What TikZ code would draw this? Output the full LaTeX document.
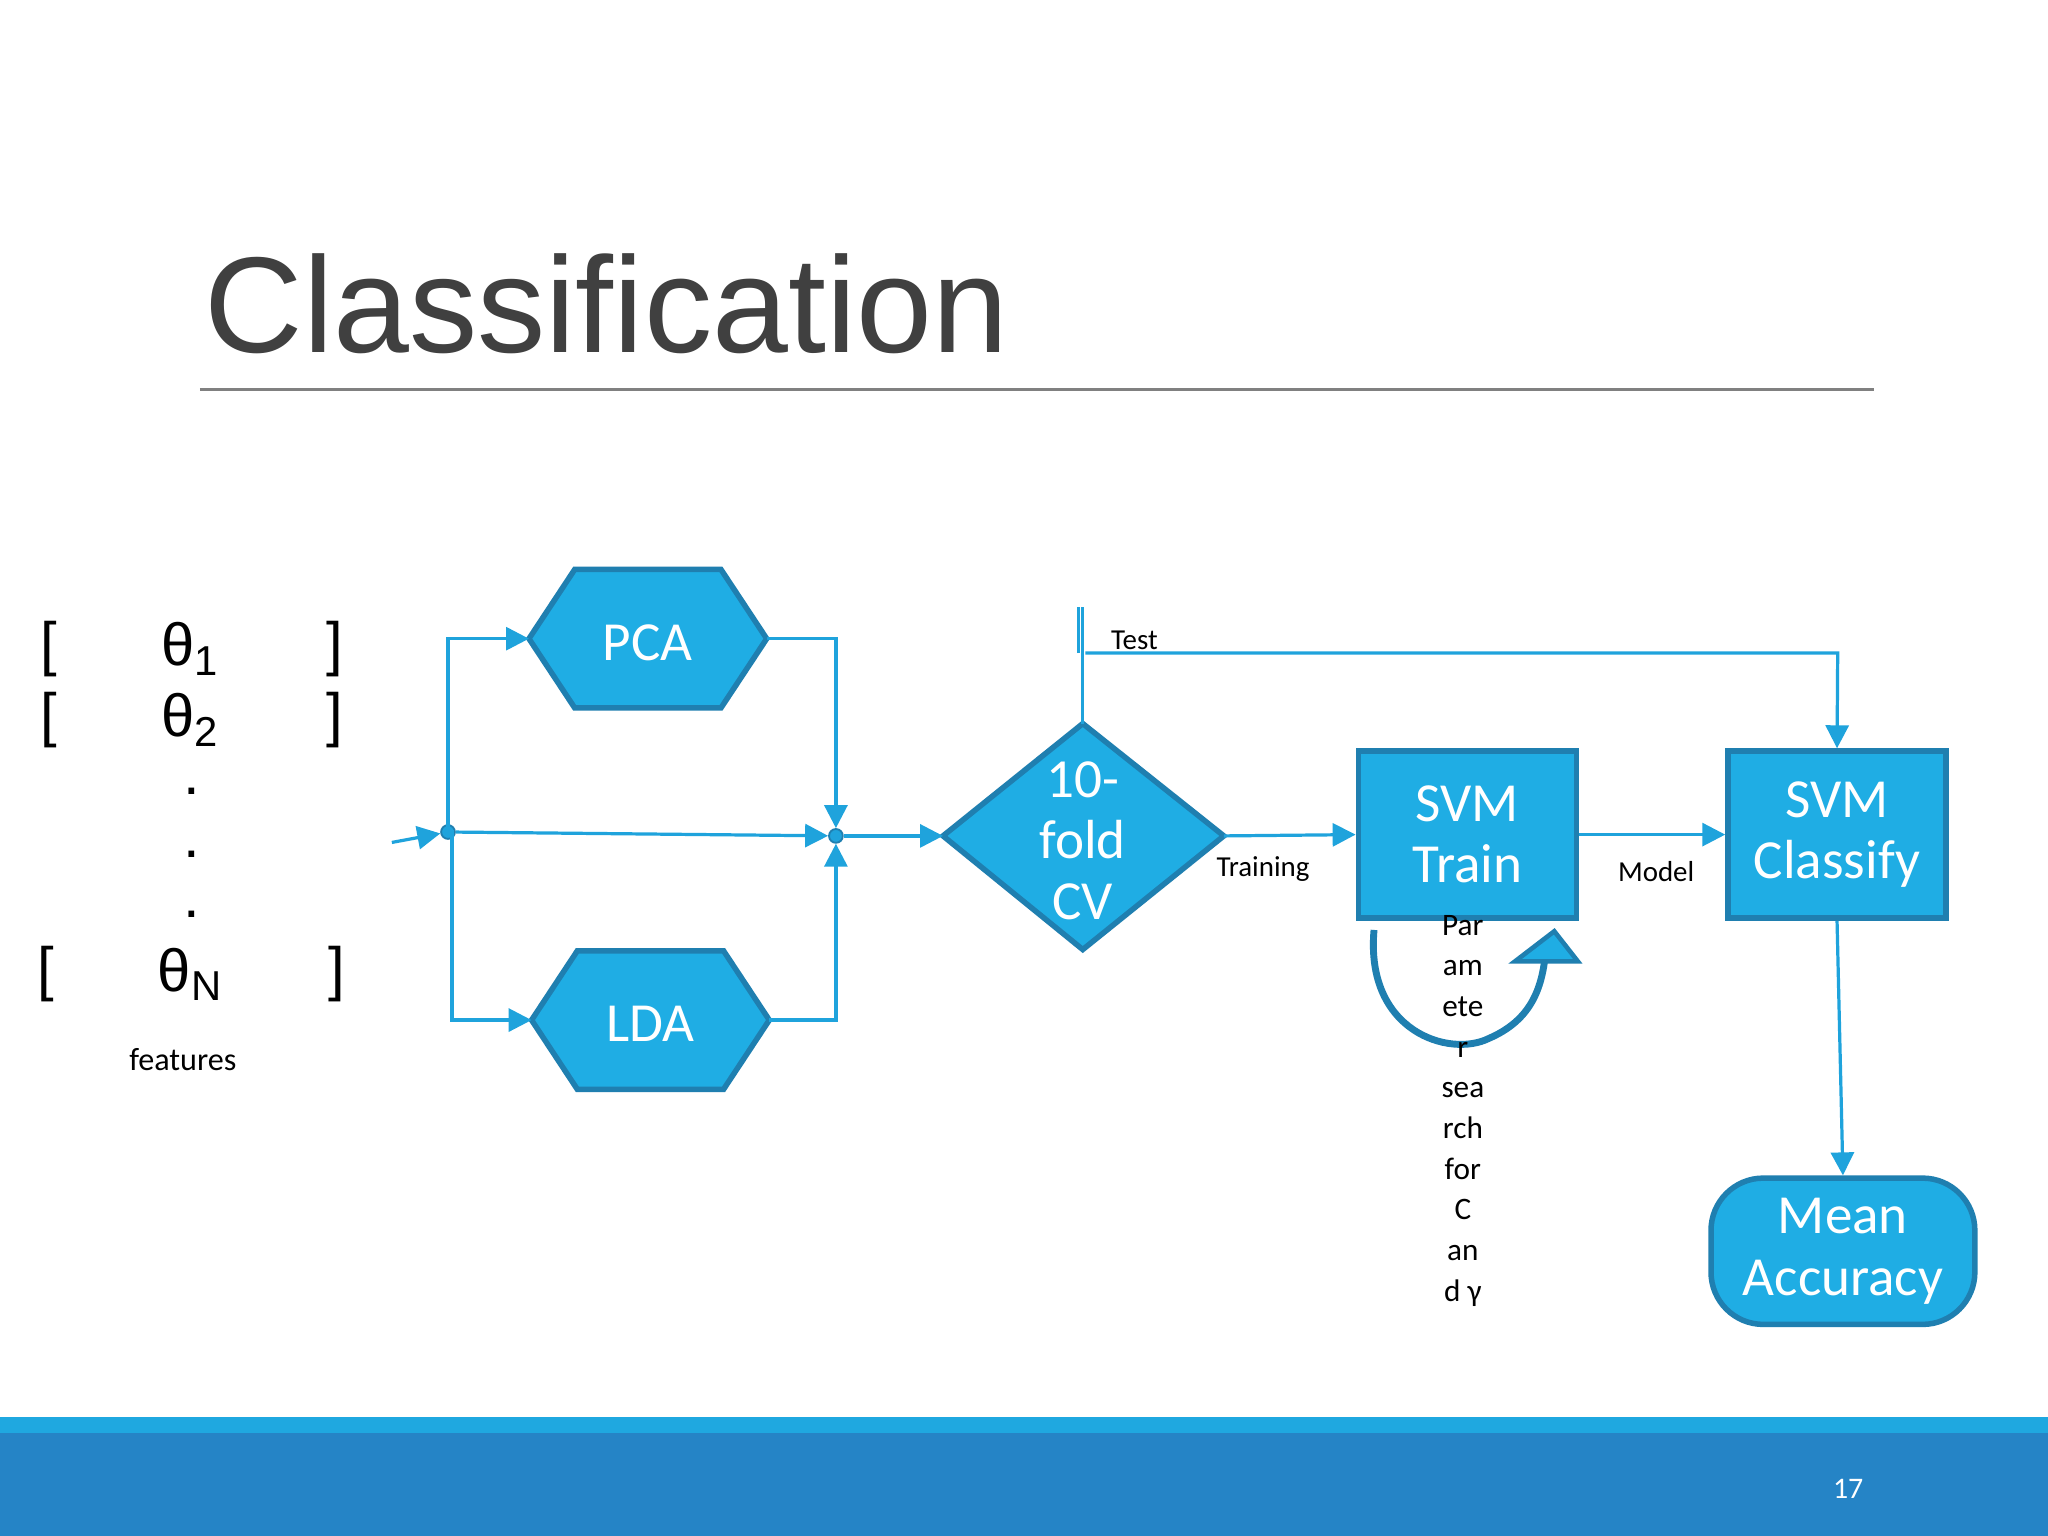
\documentclass[tikz,border=0pt]{standalone}
\usepackage{fontspec}
\setmainfont{Carlito}
\newfontfamily\arialf{Liberation Sans}
\usetikzlibrary{arrows.meta,shapes.geometric}
\definecolor{boxfill}{HTML}{1FADE4}
\definecolor{boxline}{HTML}{1F7FB0}
\definecolor{conn}{HTML}{1FA3DC}
\definecolor{bandlight}{HTML}{1FA8E0}
\definecolor{banddark}{HTML}{2584C6}
\definecolor{titlegray}{HTML}{404040}
\tikzset{
  shp/.style={draw=boxline,fill=boxfill,line width=1.2pt},
  box/.style={shp,text=white,font=\fontsize{12}{13.3}\selectfont,align=center,inner sep=0pt},
  btxt/.style={text=white,font=\fontsize{12}{13.3}\selectfont,align=center,inner sep=0pt},
  lab/.style={font=\fontsize{6.3}{8.9}\selectfont,text=black,inner sep=0pt,align=center},
  wire/.style={draw=conn,line width=0.7pt},
  arr/.style={wire,-{Triangle[length=5pt,width=5pt]}},
  theta/.style={font=\arialf\fontsize{13}{14}\selectfont,inner sep=0pt},
  jdot/.style={circle,fill=conn,draw=boxline,minimum size=3pt,inner sep=0pt}
}
\begin{document}
\begin{tikzpicture}[x=0.01cm,y=-0.01cm]
\useasboundingbox (0,0) rectangle (1568,1176);
\fill[white] (0,0) rectangle (1568,1176);
% title
\node[anchor=base west,inner sep=0pt,text=titlegray,font=\arialf\fontsize{29.7}{32}\selectfont] (title) at (156,270) {Classification};
\draw[gray,line width=0.6pt] (153,298) -- (1435,298);
% bottom band
\fill[bandlight] (0,1085) rectangle (1568,1098);
\fill[banddark] (0,1097) rectangle (1568,1176);
\node[text=white,font=\fontsize{6.5}{8}\selectfont] (pg) at (1415,1140) {17};
% features
\node[theta] (b1l) at (37,497) {[};
\node[theta] (t1) at (146,497) {θ\textsubscript{1}};
\node[theta] (b1r) at (256,497) {]};
\node[theta] (b2l) at (37,551) {[};
\node[theta] (t2) at (146,551) {θ\textsubscript{2}};
\node[theta] (b2r) at (256,551) {]};
\node[theta] (d1) at (147,606) {.};
\node[theta] (d2) at (147,654) {.};
\node[theta] (d3) at (147,700) {.};
\node[theta] (bNl) at (35,746) {[};
\node[theta] (tN) at (146,746) {θ\textsubscript{N}};
\node[theta] (bNr) at (258,746) {]};
\node[lab,font=\fontsize{7}{9}\selectfont] (feat) at (140,811) {features};
% hexagons
\draw[shp] (405,489) -- (440,436) -- (552,436) -- (587,489) -- (552,542) -- (440,542) -- cycle;
\node[btxt] (pca) at (496,492) {PCA};
\coordinate (pcaL) at (405,489); \coordinate (pcaR) at (587,489);
\draw[shp] (407,781) -- (442,728) -- (554,728) -- (589,781) -- (554,834) -- (442,834) -- cycle;
\node[btxt] (lda) at (498,784) {LDA};
\coordinate (ldaL) at (407,781); \coordinate (ldaR) at (589,781);
% diamond
\draw[shp] (722,640) -- (829,554) -- (937,640) -- (829,727) -- cycle;
\node[btxt] (cv) at (829,644) {10-\\fold\\CV};
\coordinate (cvL) at (722,640); \coordinate (cvR) at (937,640); \coordinate (cvT) at (829,554);
% boxes
\node[box,minimum width=167*0.01cm,minimum height=128*0.01cm] (train) at (1123.5,639) {SVM\\Train};
\node[box,minimum width=167*0.01cm,minimum height=128*0.01cm] (classify) at (1406.5,639) {SVM\\Classify};
\node[box,rounded corners=0.4cm,minimum width=202*0.01cm,minimum height=112*0.01cm] (mean) at (1411,958) {Mean\\Accuracy};
% junctions
\node[jdot] (j1) at (343,637) {};
\node[jdot] (j2) at (640,640) {};
\coordinate (in) at (300,645);
% connectors
\draw[arr] (in) -- (j1);
\draw[arr] (j1.center) -- (343,489) -- (pcaL);
\draw[arr] (j1.center) -- (346,637) -- (346,781) -- (ldaL);
\draw[arr] (j1) -- (j2);
\draw[arr] (pcaR) -- (640,489) -- (j2.north);
\draw[arr] (ldaR) -- (640,781) -- (j2.south);
\draw[arr] (j2) -- (cvL);
\draw[wire] (cvT) -- (829,465);
\draw[wire] (826,500) -- (826,465);
\draw[arr] (831,500) -- (1407,500) -- (classify.north);
\node[lab,anchor=base west] (test) at (850,497) {Test};
\draw[arr] (cvR) -- (train.west);
\node[lab] (trl) at (967,665) {Training};
\draw[arr] (train.east) -- (classify.west);
\node[lab] (mdl) at (1268,667) {Model};
\draw[arr] (classify.south) -- (mean.north);
% curved arrow
\draw[draw=boxline,line width=1.5pt] (1052,712) .. controls (1045,790) and (1110,810) .. (1140,795) .. controls (1170,782) and (1180,760) .. (1183,732);
\draw[shp,line width=1pt] (1160,736) -- (1190,713) -- (1208,736) -- cycle;
\node[lab,font=\fontsize{6.8}{8.85}\selectfont,anchor=north] (ps) at (1120,700) {Par\\am\\ete\\r\\sea\\rch\\for\\C\\an\\d γ};
\end{tikzpicture}
\end{document}
